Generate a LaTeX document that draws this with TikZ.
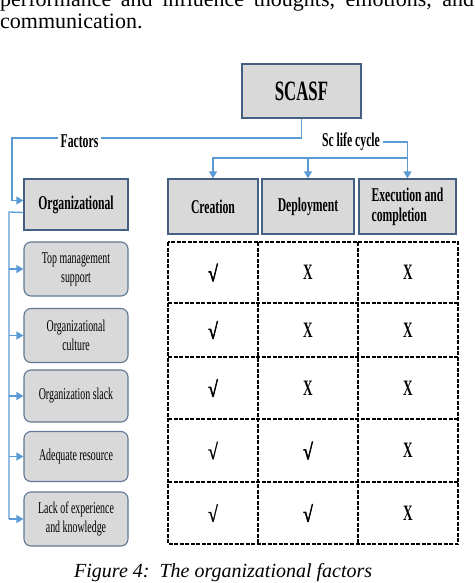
\documentclass[tikz,border=0pt]{standalone}
\usepackage{fontspec}
\setmainfont{Liberation Serif}
\newfontfamily\narrowfont[FakeStretch=0.6]{Liberation Serif}
\newfontfamily\heavyfont[FakeStretch=0.8, FakeBold=2.5]{Liberation Serif}
\newfontfamily\mediumfont[FakeStretch=0.8, FakeBold=1.2]{Liberation Serif}
\usepackage{tikz}
\usetikzlibrary{calc}
\usetikzlibrary{arrows.meta}
\definecolor{boxgray}{RGB}{217, 217, 217}
\definecolor{slate}{RGB}{68, 96, 130}
\definecolor{office}{RGB}{91, 155, 213}
\newcommand{\chkbold}{\heavyfont\char"221A}
\newcommand{\chklight}{\mediumfont\char"221A}
\newcommand{\crossx}{\bfseries X}

\begin{document}
\begin{tikzpicture}[x=1pt, y=-1pt,
        bodytext/.style={inner sep=0pt, font=\fontsize{22}{26}\selectfont},
        sqbox/.style={draw=slate, fill=boxgray, line width=1.3pt, inner sep=2pt, align=center,
                      font=\narrowfont\bfseries\fontsize{19.5}{20}\selectfont},
        rdbox/.style={draw=slate!85, fill=boxgray, line width=1.1pt, rounded corners=7pt,
                      minimum width=104pt, minimum height=54pt, align=center,
                      font=\narrowfont\fontsize{16.5}{19}\selectfont},
        linklabel/.style={fill=white, inner sep=3pt, font=\narrowfont\bfseries\fontsize{19.5}{20}\selectfont},
        link/.style={draw=office, line width=1.3pt},
        tip/.style={-{Triangle[length=7pt, width=8pt]}},
        cell/.style={black, dash pattern=on 4pt off 1.5pt, line width=1.6pt},
        tickmark/.style={inner sep=0pt, font=\narrowfont\fontsize{22}{22}\selectfont}]
            % Page frame
            \useasboundingbox (0,0) rectangle (474,583);
            \clip             (0,0) rectangle (474,583);
            % Running text above the figure
            \node[bodytext, anchor=base west] (prevline) at (0, 7) {\makebox[474pt][s]{performance and influence thoughts, emotions, and}};
            \node[bodytext, anchor=base west] (lastline) at (0,29) {communication.};
            % Root and headers
            \node[sqbox, minimum width=119pt, minimum height=54pt,
                  font=\narrowfont\bfseries\fontsize{28}{28}\selectfont] (scasf) at (301.5, 91.0) {SCASF};
            \node[sqbox, minimum width=104pt, minimum height=51pt] (org)  at ( 76.0,204.5) {Organizational};
            \node[sqbox, minimum width= 90pt, minimum height=55pt] (crea) at (213.0,206.5) {Creation};
            \node[sqbox, minimum width= 92pt, minimum height=55pt] (dep)  at (308.0,206.5) {Deployment};
            \node[sqbox, minimum width= 97pt, minimum height=55pt, align=left] (exe) at (407.5,206.5) {Execution and\\completion};
            % Factors branch
            \coordinate (bend) at (12,138);
            \draw[link, tip] (scasf.south) |- (bend) |- ($(org.west)+(0,-4)$);
            \node[linklabel] (factors) at (79.5,141) {Factors};
            % Sc life cycle branch
            \node[linklabel] (cycle) at (351,142) {Sc life cycle};
            \coordinate (split) at (407.5,158);
            \draw[link, tip] (cycle.east) -| (exe.north);
            \draw[link, tip] (split) -| (crea.north);
            \draw[link, tip] (dep.north |- split) -- (dep.north);
            % Organizational factors
            \node[rdbox]                     (top)   at (76,269.0) {Top management\\support};
            \node[rdbox]                     (cult)  at (76,335.5) {Organizational\\culture};
            \node[rdbox, minimum height=52pt] (slack) at (76,396.0) {Organization slack};
            \node[rdbox, minimum height=50pt] (adeq)  at (76,456.5) {Adequate resource};
            \node[rdbox]                     (lack)  at (76,519.0) {Lack of experience\\and knowledge};
            \coordinate (trunk) at (9,212);
            \draw[link] ($(org.west)+(0,8)$) -- (trunk) -- (trunk |- lack.west);
            \foreach \b in {top, cult, slack, adeq, lack}
                \draw[link, tip] (trunk |- \b.west) -- (\b.west);
            % Grid of the life cycle table
            \draw[cell, line width=2.2pt] (168,242) rectangle (458,544);
            \foreach \y in {303, 357, 419, 482}
                \draw[cell] (168,\y) -- (458,\y);
            \foreach \x in {258, 358}
                \draw[cell] (\x,242) -- (\x,544);
            % Ticks and crosses
            \foreach \y/\a/\b/\c [count=\r] in {272.5/\chkbold/\crossx/\crossx,
                                                330.0/\chkbold/\crossx/\crossx,
                                                388.0/\chkbold/\crossx/\crossx,
                                                450.5/\chklight/\chkbold/\crossx,
                                                513.0/\chklight/\chkbold/\crossx}
            {
                \node[tickmark] (m\r-1) at (213,\y) {\a};
                \node[tickmark] (m\r-2) at (308,\y) {\b};
                \node[tickmark] (m\r-3) at (408,\y) {\c};
            }
            % Caption
            \node[anchor=base west, inner sep=0pt, font=\itshape\fontsize{20}{22}\selectfont] (caption) at (74,577) {Figure 4:\ \ The organizational factors};
\end{tikzpicture}
\end{document}
